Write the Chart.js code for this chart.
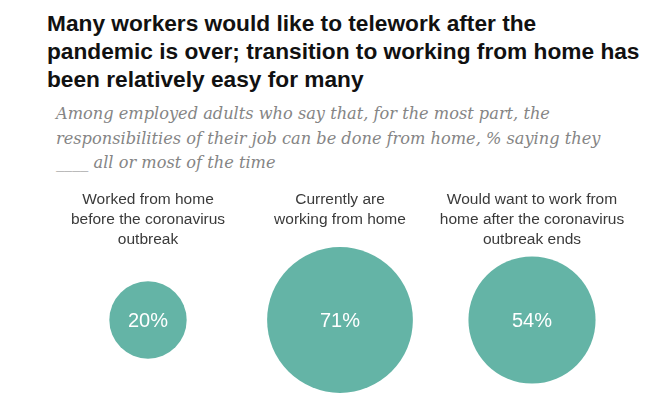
<!DOCTYPE html>
<html>
<head>
<meta charset="utf-8">
<script src="https://cdn.jsdelivr.net/npm/chart.js@4.4.0/dist/chart.umd.min.js"></script>
<style>
  html, body { margin: 0; padding: 0; background: #fff; }
  #page { position: relative; width: 672px; height: 404px; overflow: hidden; }
  #title {
    position: absolute; left: 47px; top: 9px;
    font-family: "Liberation Sans", Arial, sans-serif; font-weight: bold;
    font-size: 22.7px; line-height: 28px; color: #111; white-space: nowrap;
  }
  #subtitle {
    position: absolute; left: 56px; top: 102px;
    font-family: "DejaVu Serif", serif; font-style: italic;
    font-size: 16.2px; line-height: 24.5px; color: #858585; white-space: nowrap;
  }
  #chartBox { position: absolute; left: 0; top: 180px; width: 672px; height: 224px; }
</style>
</head>
<body>
<div id="page">
  <div id="title">Many workers would like to telework after the<br>pandemic is over; transition to working from home has<br>been relatively easy for many</div>
  <div id="subtitle">Among employed adults who say that, for the most part, the<br>responsibilities of their job can be done from home, % saying they<br>____ all or most of the time</div>
  <div id="chartBox"><canvas id="chart"></canvas></div>
</div>
<script>
const categories = [
    ["Worked from home", "before the coronavirus", "outbreak"],
    ["Currently are", "working from home"],
    ["Would want to work from", "home after the coronavirus", "outbreak ends"]
];
const shares = [20, 71, 54];

const TEAL = '#64b4a6';
const RADIUS_PER_ROOT = 8.65; // circle area proportional to the share

// labels over each circle and the value inside it
const circleLabels = {
    id: 'circleLabels',
    afterDatasetsDraw(chart) {
        const ctx = chart.ctx;
        const meta = chart.getDatasetMeta(0);
        ctx.save();
        ctx.textAlign = 'center';
        ctx.textBaseline = 'middle';
        meta.data.forEach((pt, i) => {
            ctx.fillStyle = '#3a3a3a';
            ctx.font = '15.5px "Liberation Sans", Arial, sans-serif';
            categories[i].forEach((line, j) => {
                ctx.fillText(line, pt.x, 20 + j * 20);
            });
            ctx.fillStyle = '#ffffff';
            ctx.font = '20px "Liberation Sans", Arial, sans-serif';
            ctx.fillText(shares[i] + '%', pt.x, pt.y + 1);
        });
        ctx.restore();
    }
};

new Chart(document.getElementById('chart'), {
    type: 'bubble',
    data: {
        datasets: [{
            data: shares.map((v, i) => ({ x: i, y: 0, r: RADIUS_PER_ROOT * Math.sqrt(v) })),
            backgroundColor: TEAL,
            borderWidth: 0,
            hoverRadius: 0,
            clip: false
        }]
    },
    options: {
        responsive: true,
        maintainAspectRatio: false,
        animation: false,
        events: [],
        layout: { autoPadding: false, padding: { left: 148, right: 140, top: 80, bottom: 24 } },
        scales: {
            x: { type: 'linear', min: 0, max: 2, display: false },
            y: { type: 'linear', min: -1, max: 1, display: false }
        },
        plugins: {
            legend: { display: false },
            tooltip: { enabled: false }
        }
    },
    plugins: [circleLabels]
});
</script>
</body>
</html>
